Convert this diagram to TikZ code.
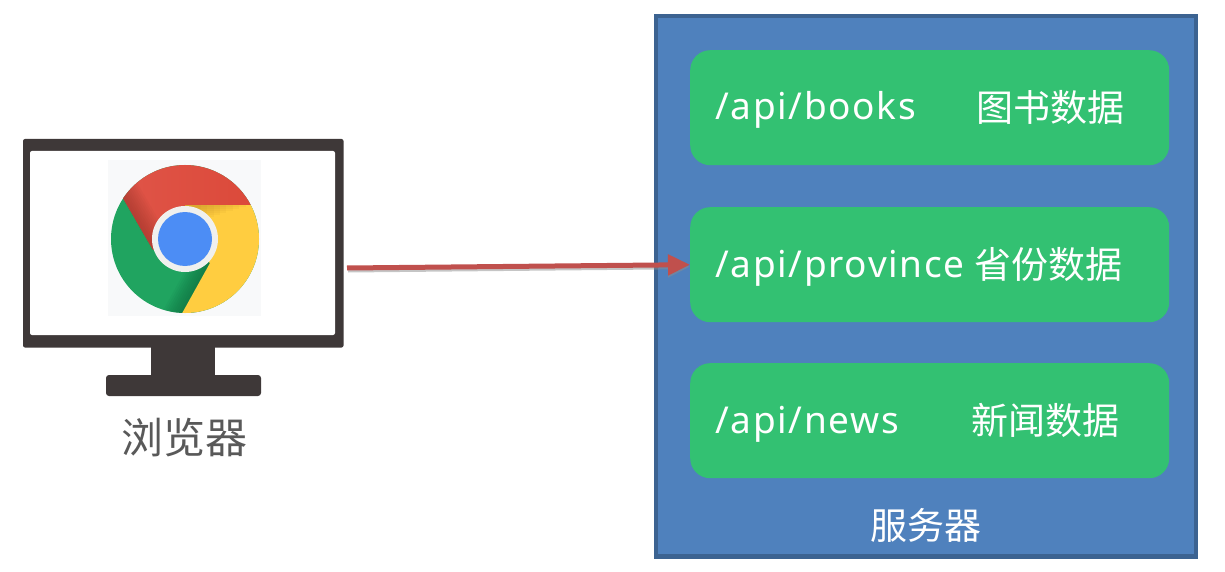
\documentclass[tikz,border=0pt]{standalone}
\usepackage{fontspec}
\setmainfont{Noto Sans}
\newfontfamily\cjk{Noto Sans CJK SC}
\newfontfamily\routefont[LetterSpace=4.5]{Noto Sans}
\usetikzlibrary{arrows.meta}
\definecolor{boxblue}{HTML}{4F81BD}
\definecolor{boxedge}{HTML}{3C6391}
\definecolor{routegreen}{HTML}{33C172}
\definecolor{monitor}{HTML}{3E3838}
\definecolor{arrowred}{HTML}{C0504D}
\definecolor{labelgrey}{HTML}{595959}
\definecolor{logobg}{HTML}{F8F9FA}
\definecolor{greenA}{HTML}{20A460}
\definecolor{greenC}{HTML}{0A5F36}
\definecolor{redA}{HTML}{8E3026}
\definecolor{redB}{HTML}{E0564A}
\definecolor{redC}{HTML}{DB4838}
\definecolor{yellowA}{HTML}{B58022}
\definecolor{yellowB}{HTML}{FFCD40}
\definecolor{ringgrey}{HTML}{F0F0EE}
\definecolor{logoblue}{HTML}{4C8DF5}
\tikzset{
  routebox/.style={fill=routegreen,rounded corners=20pt,minimum width=479pt,minimum height=115pt,inner sep=0pt,anchor=north west},
  routetext/.style={text=white,anchor=base west,inner sep=0pt,font=\routefont\fontsize{37}{37}\selectfont},
  cjktext/.style={text=white,anchor=center,inner sep=0pt,font=\cjk\fontsize{37}{37}\selectfont},
  monitorpart/.style={fill=monitor},
  arrowline/.style={line width=5pt,-{Triangle[length=22pt,width=20pt]}},
}
\begin{document}
\begin{tikzpicture}[x=1pt,y=-1pt]
\useasboundingbox (0,0) rectangle (1225,572);
% server
\node[draw=boxedge,line width=4.5pt,fill=boxblue,outer sep=0pt,minimum width=539.8pt,minimum height=540.3pt,inner sep=0pt] (server) at (926,286.4) {};
\node[routebox] (books) at (690,50) {};
\node[routebox] (province) at (690,207) {};
\node[routebox] (news) at (690,363) {};
\node[routetext] (t1) at (715,119.5) {/api/books};
\node[routetext] (t2) at (715,277) {/api/province};
\node[routetext] (t3) at (715,433) {/api/news};
\node[cjktext] (c1) at (1050,107) {图书数据};
\node[cjktext] (c2) at (1048.5,264) {省份数据};
\node[cjktext] (c3) at (1045.5,420) {新闻数据};
\node[cjktext] (serverlabel) at (925.5,525) {服务器};
% monitor
\fill[monitorpart,rounded corners=2pt] (23,139) rectangle (343.5,347.5);
\fill[white,rounded corners=2pt] (30,151) rectangle (335,335);
\fill[monitorpart] (151,345) rectangle (215,378);
\fill[monitorpart,rounded corners=3pt] (106,375) rectangle (261,396);
\node[text=labelgrey,inner sep=0pt,font=\cjk\fontsize{42}{42}\selectfont] (browser) at (184,438) {浏览器};
% chrome logo
\fill[logobg] (108,160) rectangle (261,316);
\begin{scope}
  \clip (185,239) circle[radius=74];
  % green, darkest along the yellow edge near the tip
  \fill[greenA] (100,150) rectangle (270,330);
  \foreach \w in {4,8,...,36}
    \draw[greenC,opacity=.07,line width=\w pt] (215,254) -- (175,326);
  % red, darkest along the green edge
  \begin{scope}
    \path[clip] (113,181) -- (153,250) -- (185,239) -- (185,205) -- (270,205) -- (270,150) -- (100,150) -- cycle;
    \shade[left color=redB,right color=redC] (100,150) rectangle (270,260);
    \foreach \w in {4,8,...,40}
      \draw[redA,opacity=.06,line width=\w pt] (113,181) -- (160,262);
  \end{scope}
  % yellow, darkest below the red edge
  \begin{scope}
    \path[clip] (270,205) -- (185,205) -- (185,239) -- (210,263) -- (175,326) -- (270,330) -- cycle;
    \fill[yellowB] (170,200) rectangle (270,330);
    \foreach \w in {4,8,...,32}
      \draw[yellowA,opacity=.07,line width=\w pt] (185,205) -- ({252-1.6*\w},205);
  \end{scope}
\end{scope}
\fill[ringgrey] (185,239) circle[radius=33];
\fill[logoblue] (185,239) circle[radius=27];
% arrow
\coordinate (start) at (347,268);
\draw[black!45,opacity=.5,arrowline] ([shift={(1,2)}]start) -- ([shift={(0,2)}]province.west);
\draw[arrowred,arrowline] (start) -- (province.west);
\end{tikzpicture}
\end{document}
